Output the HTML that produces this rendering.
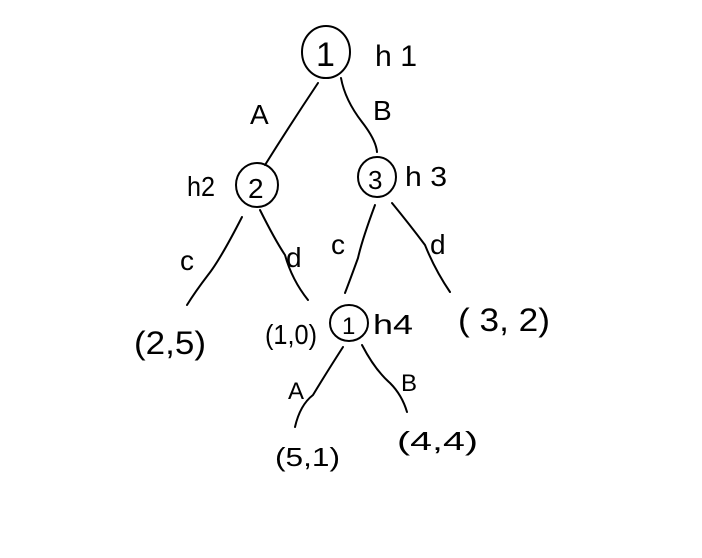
<!DOCTYPE html>
<html><head><style>html,body{margin:0;padding:0;background:#fff;}svg{display:block}</style></head>
<body>
<svg width="702" height="558" viewBox="0 0 702 558" xmlns="http://www.w3.org/2000/svg" font-family="Liberation Sans, sans-serif" fill="#000">
<g fill="none" stroke="#000" stroke-width="2" stroke-linecap="round">
<ellipse cx="326" cy="52" rx="24" ry="26"/>
<ellipse cx="257" cy="185" rx="21" ry="22"/>
<ellipse cx="377" cy="177" rx="19" ry="20"/>
<ellipse cx="349" cy="323" rx="19" ry="18"/>
<path d="M318 83 Q290 125 265 165"/>
<path d="M341 78 Q345 100 362 122 Q376 140 377 152"/>
<path d="M242 217 Q220 260 208 275 Q195 292 187 305"/>
<path d="M260 210 Q275 240 285 255 Q292 280 308 300"/>
<path d="M375 205 Q362 240 358 258 Q350 280 345 293"/>
<path d="M392 203 Q410 225 425 245 Q435 270 450 292"/>
<path d="M343 347 Q325 375 313 395 Q300 405 295 427"/>
<path d="M362 345 Q375 370 390 383 Q402 395 407 412"/>
</g>
<g font-size="28">
<text x="316" y="66" font-size="34">1</text>
<text x="248" y="198" font-size="28">2</text>
<text x="368" y="189" font-size="26">3</text>
<text x="342" y="334" font-size="24">1</text>
<text x="375" y="66" font-size="30" textLength="42" lengthAdjust="spacingAndGlyphs">h 1</text>
<text x="250" y="124" font-size="28">A</text>
<text x="373" y="120" font-size="28">B</text>
<text x="187" y="196" font-size="28" textLength="28" lengthAdjust="spacingAndGlyphs">h2</text>
<text x="405" y="186" font-size="28" textLength="42" lengthAdjust="spacingAndGlyphs">h 3</text>
<text x="180" y="270" font-size="28">c</text>
<text x="286" y="267" font-size="28">d</text>
<text x="331" y="254" font-size="28">c</text>
<text x="430" y="254" font-size="28">d</text>
<text x="373" y="334" font-size="28" textLength="40" lengthAdjust="spacingAndGlyphs">h4</text>
<text x="134" y="354" font-size="32" textLength="72" lengthAdjust="spacingAndGlyphs">(2,5)</text>
<text x="265" y="344" font-size="28" textLength="52" lengthAdjust="spacingAndGlyphs">(1,0)</text>
<text x="458" y="331" font-size="32" textLength="92" lengthAdjust="spacingAndGlyphs">( 3, 2)</text>
<text x="288" y="399" font-size="24">A</text>
<text x="401" y="391" font-size="24">B</text>
<text x="275" y="466" font-size="26" textLength="65" lengthAdjust="spacingAndGlyphs">(5,1)</text>
<text x="397" y="450" font-size="26" textLength="81" lengthAdjust="spacingAndGlyphs">(4,4)</text>
</g>
</svg>
</body></html>
